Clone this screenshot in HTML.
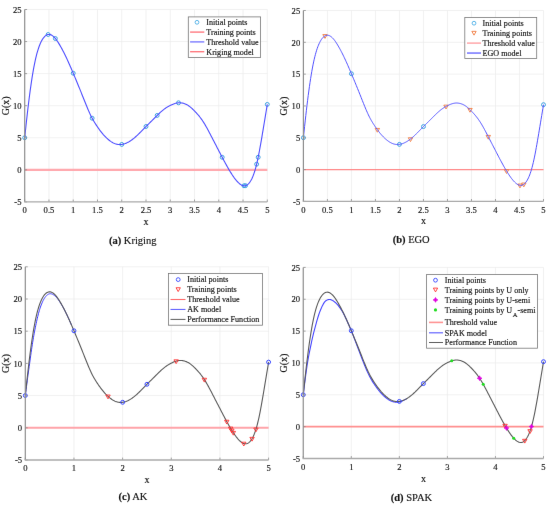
<!DOCTYPE html>
<html><head><meta charset="utf-8"><style>
html,body{margin:0;padding:0;background:#fff;}
svg{display:block;}
text{font-family:"Liberation Serif", "Times New Roman", serif;fill:#141414;stroke:#141414;stroke-width:0.15px;}
.tk{font-size:8.6px;}
.lg{font-size:8.1px;}
.al{font-size:10px;}
.gl{font-size:10px;}
.cp{font-size:10.5px;}
</style></head><body>
<svg width="550" height="506" viewBox="0 0 550 506">
<defs><filter id="bl" x="0" y="0" width="550" height="506" filterUnits="userSpaceOnUse" color-interpolation-filters="sRGB"><feConvolveMatrix order="3" kernelMatrix="0.00163 0.03713 0.00163 0.03713 0.84497 0.03713 0.00163 0.03713 0.00163" divisor="1" edgeMode="duplicate"/></filter></defs><g filter="url(#bl)">
<rect width="550" height="506" fill="#fff"/>
<path d="M48.96,9.50V201.90M73.22,9.50V201.90M97.48,9.50V201.90M121.74,9.50V201.90M146.00,9.50V201.90M170.26,9.50V201.90M194.52,9.50V201.90M218.78,9.50V201.90M243.04,9.50V201.90M267.30,9.50V201.90M24.70,169.83H267.30M24.70,137.77H267.30M24.70,105.70H267.30M24.70,73.63H267.30M24.70,41.57H267.30M24.70,9.50H267.30" stroke="#ebebeb" stroke-width="0.7" fill="none"/>
<path d="M24.70,169.83H267.30" stroke="#ffa8ae" stroke-width="2.1"/>
<circle cx="24.70" cy="137.70" r="1.95" stroke="#3a9fe0" stroke-width="1.0" fill="none"/>
<circle cx="48.14" cy="34.51" r="1.95" stroke="#3a9fe0" stroke-width="1.0" fill="none"/>
<circle cx="55.36" cy="38.52" r="1.95" stroke="#3a9fe0" stroke-width="1.0" fill="none"/>
<circle cx="73.22" cy="73.23" r="1.95" stroke="#3a9fe0" stroke-width="1.0" fill="none"/>
<circle cx="92.14" cy="118.21" r="1.95" stroke="#3a9fe0" stroke-width="1.0" fill="none"/>
<circle cx="121.74" cy="144.43" r="1.95" stroke="#3a9fe0" stroke-width="1.0" fill="none"/>
<circle cx="146.00" cy="126.50" r="1.95" stroke="#3a9fe0" stroke-width="1.0" fill="none"/>
<circle cx="157.16" cy="115.43" r="1.95" stroke="#3a9fe0" stroke-width="1.0" fill="none"/>
<circle cx="178.51" cy="102.79" r="1.95" stroke="#3a9fe0" stroke-width="1.0" fill="none"/>
<circle cx="222.18" cy="157.26" r="1.95" stroke="#3a9fe0" stroke-width="1.0" fill="none"/>
<circle cx="244.01" cy="185.78" r="1.95" stroke="#3a9fe0" stroke-width="1.0" fill="none"/>
<circle cx="245.47" cy="185.65" r="1.95" stroke="#3a9fe0" stroke-width="1.0" fill="none"/>
<circle cx="256.63" cy="164.21" r="1.95" stroke="#3a9fe0" stroke-width="1.0" fill="none"/>
<circle cx="258.18" cy="157.23" r="1.95" stroke="#3a9fe0" stroke-width="1.0" fill="none"/>
<circle cx="267.30" cy="104.42" r="1.95" stroke="#3a9fe0" stroke-width="1.0" fill="none"/>
<path d="M24.70,137.70 L25.31,132.00 L25.92,126.35 L26.52,120.78 L27.13,115.33 L27.74,110.03 L28.35,104.90 L28.96,99.97 L29.56,95.22 L30.17,90.67 L30.78,86.30 L31.39,82.13 L32.00,78.15 L32.60,74.38 L33.21,70.81 L33.82,67.44 L34.43,64.29 L35.04,61.34 L35.64,58.61 L36.25,56.07 L36.86,53.72 L37.47,51.55 L38.08,49.55 L38.68,47.71 L39.29,46.02 L39.90,44.48 L40.51,43.07 L41.12,41.78 L41.72,40.62 L42.33,39.57 L42.94,38.63 L43.55,37.79 L44.16,37.05 L44.76,36.42 L45.37,35.87 L45.98,35.42 L46.59,35.06 L47.20,34.78 L47.80,34.58 L48.41,34.47 L49.02,34.44 L49.63,34.49 L50.24,34.62 L50.84,34.82 L51.45,35.10 L52.06,35.45 L52.67,35.87 L53.28,36.36 L53.88,36.92 L54.49,37.53 L55.10,38.21 L55.71,38.95 L56.32,39.74 L56.93,40.58 L57.53,41.47 L58.14,42.40 L58.75,43.37 L59.36,44.37 L59.97,45.40 L60.57,46.45 L61.18,47.52 L61.79,48.62 L62.40,49.75 L63.01,50.90 L63.61,52.07 L64.22,53.28 L64.83,54.50 L65.44,55.75 L66.05,57.02 L66.65,58.31 L67.26,59.62 L67.87,60.95 L68.48,62.29 L69.09,63.65 L69.69,65.03 L70.30,66.42 L70.91,67.82 L71.52,69.23 L72.13,70.65 L72.73,72.08 L73.34,73.52 L73.95,74.96 L74.56,76.40 L75.17,77.85 L75.77,79.31 L76.38,80.77 L76.99,82.23 L77.60,83.71 L78.21,85.18 L78.81,86.67 L79.42,88.16 L80.03,89.65 L80.64,91.16 L81.25,92.66 L81.85,94.18 L82.46,95.70 L83.07,97.23 L83.68,98.76 L84.29,100.29 L84.89,101.82 L85.50,103.33 L86.11,104.83 L86.72,106.32 L87.33,107.79 L87.93,109.23 L88.54,110.64 L89.15,112.02 L89.76,113.36 L90.37,114.67 L90.97,115.92 L91.58,117.14 L92.19,118.30 L92.80,119.41 L93.41,120.48 L94.01,121.51 L94.62,122.51 L95.23,123.48 L95.84,124.42 L96.45,125.35 L97.05,126.26 L97.66,127.15 L98.27,128.03 L98.88,128.90 L99.49,129.74 L100.09,130.56 L100.70,131.36 L101.31,132.14 L101.92,132.90 L102.53,133.63 L103.13,134.34 L103.74,135.02 L104.35,135.69 L104.96,136.33 L105.57,136.95 L106.17,137.55 L106.78,138.14 L107.39,138.70 L108.00,139.24 L108.61,139.75 L109.21,140.25 L109.82,140.72 L110.43,141.17 L111.04,141.59 L111.65,141.98 L112.25,142.35 L112.86,142.69 L113.47,143.01 L114.08,143.29 L114.69,143.55 L115.29,143.78 L115.90,143.98 L116.51,144.15 L117.12,144.29 L117.73,144.40 L118.34,144.49 L118.94,144.54 L119.55,144.57 L120.16,144.57 L120.77,144.54 L121.38,144.48 L121.98,144.40 L122.59,144.29 L123.20,144.15 L123.81,143.99 L124.42,143.81 L125.02,143.60 L125.63,143.37 L126.24,143.12 L126.85,142.85 L127.46,142.55 L128.06,142.23 L128.67,141.90 L129.28,141.55 L129.89,141.17 L130.50,140.78 L131.10,140.37 L131.71,139.94 L132.32,139.50 L132.93,139.04 L133.54,138.56 L134.14,138.07 L134.75,137.56 L135.36,137.03 L135.97,136.49 L136.58,135.94 L137.18,135.37 L137.79,134.79 L138.40,134.20 L139.01,133.61 L139.62,133.00 L140.22,132.39 L140.83,131.77 L141.44,131.15 L142.05,130.53 L142.66,129.90 L143.26,129.28 L143.87,128.65 L144.48,128.03 L145.09,127.41 L145.70,126.80 L146.30,126.19 L146.91,125.59 L147.52,124.99 L148.13,124.40 L148.74,123.80 L149.34,123.21 L149.95,122.61 L150.56,122.01 L151.17,121.41 L151.78,120.81 L152.38,120.20 L152.99,119.60 L153.60,118.99 L154.21,118.37 L154.82,117.76 L155.42,117.15 L156.03,116.55 L156.64,115.94 L157.25,115.34 L157.86,114.75 L158.46,114.16 L159.07,113.58 L159.68,113.01 L160.29,112.45 L160.90,111.90 L161.50,111.36 L162.11,110.84 L162.72,110.33 L163.33,109.84 L163.94,109.37 L164.54,108.92 L165.15,108.48 L165.76,108.06 L166.37,107.66 L166.98,107.27 L167.58,106.90 L168.19,106.54 L168.80,106.20 L169.41,105.87 L170.02,105.55 L170.62,105.25 L171.23,104.96 L171.84,104.68 L172.45,104.41 L173.06,104.16 L173.66,103.93 L174.27,103.71 L174.88,103.51 L175.49,103.33 L176.10,103.18 L176.71,103.04 L177.31,102.93 L177.92,102.85 L178.53,102.79 L179.14,102.76 L179.75,102.75 L180.35,102.78 L180.96,102.83 L181.57,102.92 L182.18,103.03 L182.79,103.16 L183.39,103.32 L184.00,103.50 L184.61,103.71 L185.22,103.93 L185.83,104.19 L186.43,104.48 L187.04,104.79 L187.65,105.14 L188.26,105.53 L188.87,105.94 L189.47,106.39 L190.08,106.86 L190.69,107.36 L191.30,107.88 L191.91,108.42 L192.51,108.98 L193.12,109.57 L193.73,110.16 L194.34,110.78 L194.95,111.40 L195.55,112.04 L196.16,112.69 L196.77,113.36 L197.38,114.05 L197.99,114.75 L198.59,115.47 L199.20,116.21 L199.81,116.98 L200.42,117.77 L201.03,118.58 L201.63,119.43 L202.24,120.30 L202.85,121.20 L203.46,122.13 L204.07,123.09 L204.67,124.08 L205.28,125.11 L205.89,126.16 L206.50,127.24 L207.11,128.33 L207.71,129.45 L208.32,130.58 L208.93,131.73 L209.54,132.89 L210.15,134.06 L210.75,135.23 L211.36,136.41 L211.97,137.58 L212.58,138.76 L213.19,139.93 L213.79,141.11 L214.40,142.28 L215.01,143.45 L215.62,144.62 L216.23,145.79 L216.83,146.96 L217.44,148.14 L218.05,149.31 L218.66,150.49 L219.27,151.66 L219.87,152.84 L220.48,154.01 L221.09,155.18 L221.70,156.35 L222.31,157.51 L222.91,158.66 L223.52,159.80 L224.13,160.94 L224.74,162.06 L225.35,163.18 L225.95,164.29 L226.56,165.39 L227.17,166.48 L227.78,167.55 L228.39,168.61 L228.99,169.65 L229.60,170.67 L230.21,171.67 L230.82,172.65 L231.43,173.61 L232.03,174.55 L232.64,175.46 L233.25,176.35 L233.86,177.22 L234.47,178.05 L235.07,178.86 L235.68,179.64 L236.29,180.38 L236.90,181.08 L237.51,181.75 L238.12,182.38 L238.72,182.96 L239.33,183.50 L239.94,184.00 L240.55,184.44 L241.16,184.82 L241.76,185.15 L242.37,185.41 L242.98,185.61 L243.59,185.74 L244.20,185.79 L244.80,185.77 L245.41,185.66 L246.02,185.47 L246.63,185.19 L247.24,184.83 L247.84,184.36 L248.45,183.80 L249.06,183.14 L249.67,182.37 L250.28,181.50 L250.88,180.50 L251.49,179.39 L252.10,178.15 L252.71,176.78 L253.32,175.27 L253.92,173.61 L254.53,171.80 L255.14,169.82 L255.75,167.65 L256.36,165.31 L256.96,162.79 L257.57,160.09 L258.18,157.23 L258.79,154.20 L259.40,151.02 L260.00,147.72 L260.61,144.32 L261.22,140.83 L261.83,137.29 L262.44,133.70 L263.04,130.07 L263.65,126.42 L264.26,122.76 L264.87,119.10 L265.48,115.43 L266.08,111.76 L266.69,108.09 L267.30,104.42" stroke="#4d4dff" stroke-width="1.1" fill="none"/>
<path d="M24.70,201.90v-2.4M48.96,201.90v-2.4M73.22,201.90v-2.4M97.48,201.90v-2.4M121.74,201.90v-2.4M146.00,201.90v-2.4M170.26,201.90v-2.4M194.52,201.90v-2.4M218.78,201.90v-2.4M243.04,201.90v-2.4M267.30,201.90v-2.4M24.70,201.90h2.4M24.70,169.83h2.4M24.70,137.77h2.4M24.70,105.70h2.4M24.70,73.63h2.4M24.70,41.57h2.4M24.70,9.50h2.4" stroke="#8a8a8a" stroke-width="0.8" fill="none"/>
<path d="M24.70,9.50V201.90" stroke="#8e8e8e" stroke-width="1.2" fill="none"/>
<path d="M24.10,201.90H267.30" stroke="#aaaaaa" stroke-width="1.3" fill="none"/>
<text x="21.50" y="205.10" text-anchor="end" class="tk">-5</text>
<text x="21.50" y="173.03" text-anchor="end" class="tk">0</text>
<text x="21.50" y="140.97" text-anchor="end" class="tk">5</text>
<text x="21.50" y="108.90" text-anchor="end" class="tk">10</text>
<text x="21.50" y="76.83" text-anchor="end" class="tk">15</text>
<text x="21.50" y="44.77" text-anchor="end" class="tk">20</text>
<text x="21.50" y="12.70" text-anchor="end" class="tk">25</text>
<text x="24.70" y="213.30" text-anchor="middle" class="tk">0</text>
<text x="48.96" y="213.30" text-anchor="middle" class="tk">0.5</text>
<text x="73.22" y="213.30" text-anchor="middle" class="tk">1</text>
<text x="97.48" y="213.30" text-anchor="middle" class="tk">1.5</text>
<text x="121.74" y="213.30" text-anchor="middle" class="tk">2</text>
<text x="146.00" y="213.30" text-anchor="middle" class="tk">2.5</text>
<text x="170.26" y="213.30" text-anchor="middle" class="tk">3</text>
<text x="194.52" y="213.30" text-anchor="middle" class="tk">3.5</text>
<text x="218.78" y="213.30" text-anchor="middle" class="tk">4</text>
<text x="243.04" y="213.30" text-anchor="middle" class="tk">4.5</text>
<text x="267.30" y="213.30" text-anchor="middle" class="tk">5</text>
<rect x="188.3" y="16.9" width="72.3" height="40.6" fill="#fff" stroke="#777" stroke-width="0.8"/>
<circle cx="197" cy="22.30" r="1.9" stroke="#4aaee6" stroke-width="0.9" fill="none"/>
<text x="206.3" y="25.10" class="lg">Initial points</text>
<path d="M190.1,32.10H204.3" stroke="#ff7a80" stroke-width="1.4"/>
<text x="206.3" y="34.90" class="lg">Training points</text>
<path d="M190.1,41.90H204.3" stroke="#7373ff" stroke-width="1.3"/>
<text x="206.3" y="44.70" class="lg">Threshold value</text>
<path d="M190.1,51.70H204.3" stroke="#ff7a80" stroke-width="1.4"/>
<text x="206.3" y="54.50" class="lg">Kriging model</text>
<text x="146.00" y="224.5" text-anchor="middle" class="al">x</text>
<text transform="translate(8.8,105.90) rotate(-90)" text-anchor="middle" class="al gl">G(x)</text>
<text x="132.7" y="243.8" text-anchor="middle" class="cp"><tspan font-weight="bold">(a)</tspan> Kriging</text>
<path d="M327.41,10.50V201.40M351.42,10.50V201.40M375.43,10.50V201.40M399.44,10.50V201.40M423.45,10.50V201.40M447.46,10.50V201.40M471.47,10.50V201.40M495.48,10.50V201.40M519.49,10.50V201.40M543.50,10.50V201.40M303.40,169.58H543.50M303.40,137.77H543.50M303.40,105.95H543.50M303.40,74.13H543.50M303.40,42.32H543.50M303.40,10.50H543.50" stroke="#ebebeb" stroke-width="0.7" fill="none"/>
<path d="M303.40,169.58H543.50" stroke="#ff8a8a" stroke-width="1.1"/>
<circle cx="303.40" cy="137.70" r="1.95" stroke="#3a9fe0" stroke-width="1.0" fill="none"/>
<circle cx="351.42" cy="73.73" r="1.95" stroke="#3a9fe0" stroke-width="1.0" fill="none"/>
<circle cx="399.44" cy="144.38" r="1.95" stroke="#3a9fe0" stroke-width="1.0" fill="none"/>
<circle cx="423.45" cy="126.58" r="1.95" stroke="#3a9fe0" stroke-width="1.0" fill="none"/>
<circle cx="543.50" cy="104.68" r="1.95" stroke="#3a9fe0" stroke-width="1.0" fill="none"/>
<path d="M322.81,34.59H327.21L325.01,38.39Z" stroke="#f07a40" stroke-width="0.9" fill="none" stroke-linejoin="miter"/>
<path d="M375.15,128.41H379.55L377.35,132.21Z" stroke="#f07a40" stroke-width="0.9" fill="none" stroke-linejoin="miter"/>
<path d="M408.28,137.75H412.68L410.48,141.55Z" stroke="#f07a40" stroke-width="0.9" fill="none" stroke-linejoin="miter"/>
<path d="M443.82,105.14H448.22L446.02,108.94Z" stroke="#f07a40" stroke-width="0.9" fill="none" stroke-linejoin="miter"/>
<path d="M467.83,108.43H472.23L470.03,112.23Z" stroke="#f07a40" stroke-width="0.9" fill="none" stroke-linejoin="miter"/>
<path d="M486.08,135.39H490.48L488.28,139.19Z" stroke="#f07a40" stroke-width="0.9" fill="none" stroke-linejoin="miter"/>
<path d="M504.32,169.67H508.72L506.52,173.47Z" stroke="#f07a40" stroke-width="0.9" fill="none" stroke-linejoin="miter"/>
<path d="M517.77,184.05H522.17L519.97,187.85Z" stroke="#f07a40" stroke-width="0.9" fill="none" stroke-linejoin="miter"/>
<path d="M521.61,183.04H526.01L523.81,186.84Z" stroke="#f07a40" stroke-width="0.9" fill="none" stroke-linejoin="miter"/>
<path d="M303.40,137.70 L304.00,132.04 L304.60,126.43 L305.21,120.91 L305.81,115.50 L306.41,110.24 L307.01,105.16 L307.61,100.26 L308.21,95.55 L308.82,91.03 L309.42,86.70 L310.02,82.56 L310.62,78.62 L311.22,74.87 L311.82,71.33 L312.43,67.99 L313.03,64.86 L313.63,61.94 L314.23,59.23 L314.83,56.71 L315.44,54.38 L316.04,52.23 L316.64,50.24 L317.24,48.41 L317.84,46.74 L318.44,45.20 L319.05,43.80 L319.65,42.53 L320.25,41.38 L320.85,40.33 L321.45,39.40 L322.05,38.57 L322.66,37.84 L323.26,37.21 L323.86,36.67 L324.46,36.22 L325.06,35.86 L325.66,35.58 L326.27,35.39 L326.87,35.28 L327.47,35.25 L328.07,35.29 L328.67,35.42 L329.28,35.62 L329.88,35.90 L330.48,36.25 L331.08,36.67 L331.68,37.15 L332.28,37.70 L332.89,38.32 L333.49,38.99 L334.09,39.72 L334.69,40.50 L335.29,41.34 L335.89,42.22 L336.50,43.15 L337.10,44.11 L337.70,45.10 L338.30,46.12 L338.90,47.16 L339.51,48.23 L340.11,49.32 L340.71,50.44 L341.31,51.58 L341.91,52.74 L342.51,53.93 L343.12,55.15 L343.72,56.39 L344.32,57.65 L344.92,58.93 L345.52,60.23 L346.12,61.54 L346.73,62.88 L347.33,64.23 L347.93,65.60 L348.53,66.97 L349.13,68.36 L349.74,69.77 L350.34,71.18 L350.94,72.59 L351.54,74.02 L352.14,75.44 L352.74,76.88 L353.35,78.32 L353.95,79.76 L354.55,81.21 L355.15,82.67 L355.75,84.13 L356.35,85.59 L356.96,87.07 L357.56,88.54 L358.16,90.03 L358.76,91.52 L359.36,93.02 L359.96,94.52 L360.57,96.03 L361.17,97.55 L361.77,99.07 L362.37,100.58 L362.97,102.10 L363.58,103.60 L364.18,105.09 L364.78,106.57 L365.38,108.02 L365.98,109.45 L366.58,110.85 L367.19,112.22 L367.79,113.55 L368.39,114.85 L368.99,116.10 L369.59,117.30 L370.19,118.45 L370.80,119.55 L371.40,120.61 L372.00,121.64 L372.60,122.63 L373.20,123.59 L373.81,124.53 L374.41,125.44 L375.01,126.35 L375.61,127.24 L376.21,128.11 L376.81,128.97 L377.42,129.80 L378.02,130.62 L378.62,131.41 L379.22,132.18 L379.82,132.93 L380.42,133.66 L381.03,134.36 L381.63,135.04 L382.23,135.70 L382.83,136.34 L383.43,136.96 L384.04,137.56 L384.64,138.13 L385.24,138.69 L385.84,139.22 L386.44,139.74 L387.04,140.23 L387.65,140.70 L388.25,141.14 L388.85,141.56 L389.45,141.95 L390.05,142.31 L390.65,142.65 L391.26,142.96 L391.86,143.25 L392.46,143.50 L393.06,143.73 L393.66,143.93 L394.26,144.10 L394.87,144.24 L395.47,144.35 L396.07,144.44 L396.67,144.49 L397.27,144.52 L397.88,144.51 L398.48,144.48 L399.08,144.43 L399.68,144.34 L400.28,144.24 L400.88,144.10 L401.49,143.94 L402.09,143.76 L402.69,143.56 L403.29,143.33 L403.89,143.08 L404.49,142.81 L405.10,142.51 L405.70,142.20 L406.30,141.87 L406.90,141.52 L407.50,141.15 L408.11,140.76 L408.71,140.35 L409.31,139.93 L409.91,139.49 L410.51,139.03 L411.11,138.55 L411.72,138.06 L412.32,137.56 L412.92,137.04 L413.52,136.50 L414.12,135.95 L414.72,135.39 L415.33,134.82 L415.93,134.23 L416.53,133.64 L417.13,133.04 L417.73,132.43 L418.34,131.82 L418.94,131.20 L419.54,130.58 L420.14,129.96 L420.74,129.34 L421.34,128.72 L421.95,128.11 L422.55,127.49 L423.15,126.89 L423.75,126.28 L424.35,125.69 L424.95,125.09 L425.56,124.50 L426.16,123.91 L426.76,123.32 L427.36,122.73 L427.96,122.14 L428.56,121.54 L429.17,120.94 L429.77,120.34 L430.37,119.74 L430.97,119.13 L431.57,118.53 L432.18,117.92 L432.78,117.31 L433.38,116.71 L433.98,116.11 L434.58,115.52 L435.18,114.93 L435.79,114.34 L436.39,113.77 L436.99,113.20 L437.59,112.65 L438.19,112.10 L438.79,111.57 L439.40,111.05 L440.00,110.55 L440.60,110.06 L441.20,109.59 L441.80,109.14 L442.41,108.71 L443.01,108.29 L443.61,107.89 L444.21,107.51 L444.81,107.14 L445.41,106.79 L446.02,106.45 L446.62,106.12 L447.22,105.81 L447.82,105.50 L448.42,105.21 L449.02,104.94 L449.63,104.67 L450.23,104.42 L450.83,104.19 L451.43,103.98 L452.03,103.78 L452.64,103.60 L453.24,103.45 L453.84,103.31 L454.44,103.21 L455.04,103.12 L455.64,103.06 L456.25,103.03 L456.85,103.03 L457.45,103.05 L458.05,103.11 L458.65,103.19 L459.25,103.30 L459.86,103.43 L460.46,103.59 L461.06,103.77 L461.66,103.97 L462.26,104.20 L462.86,104.45 L463.47,104.74 L464.07,105.05 L464.67,105.40 L465.27,105.78 L465.87,106.19 L466.48,106.63 L467.08,107.10 L467.68,107.59 L468.28,108.11 L468.88,108.65 L469.48,109.21 L470.09,109.79 L470.69,110.38 L471.29,110.99 L471.89,111.61 L472.49,112.24 L473.09,112.89 L473.70,113.55 L474.30,114.23 L474.90,114.93 L475.50,115.64 L476.10,116.38 L476.71,117.14 L477.31,117.92 L477.91,118.73 L478.51,119.57 L479.11,120.43 L479.71,121.32 L480.32,122.25 L480.92,123.20 L481.52,124.19 L482.12,125.21 L482.72,126.25 L483.32,127.32 L483.93,128.41 L484.53,129.52 L485.13,130.64 L485.73,131.78 L486.33,132.93 L486.94,134.09 L487.54,135.25 L488.14,136.42 L488.74,137.59 L489.34,138.75 L489.94,139.92 L490.55,141.08 L491.15,142.24 L491.75,143.40 L492.35,144.57 L492.95,145.73 L493.55,146.89 L494.16,148.05 L494.76,149.22 L495.36,150.39 L495.96,151.56 L496.56,152.72 L497.16,153.89 L497.77,155.05 L498.37,156.21 L498.97,157.35 L499.57,158.50 L500.17,159.63 L500.78,160.76 L501.38,161.87 L501.98,162.98 L502.58,164.08 L503.18,165.17 L503.78,166.25 L504.39,167.32 L504.99,168.37 L505.59,169.40 L506.19,170.41 L506.79,171.41 L507.39,172.38 L508.00,173.33 L508.60,174.26 L509.20,175.17 L509.80,176.05 L510.40,176.91 L511.01,177.74 L511.61,178.54 L512.21,179.31 L512.81,180.05 L513.41,180.75 L514.01,181.41 L514.62,182.03 L515.22,182.61 L515.82,183.15 L516.42,183.64 L517.02,184.07 L517.62,184.46 L518.23,184.78 L518.83,185.04 L519.43,185.24 L520.03,185.36 L520.63,185.42 L521.24,185.39 L521.84,185.29 L522.44,185.10 L523.04,184.83 L523.64,184.46 L524.24,184.00 L524.85,183.44 L525.45,182.79 L526.05,182.03 L526.65,181.15 L527.25,180.17 L527.85,179.06 L528.46,177.83 L529.06,176.47 L529.66,174.98 L530.26,173.33 L530.86,171.53 L531.46,169.57 L532.07,167.42 L532.67,165.09 L533.27,162.59 L533.87,159.92 L534.47,157.08 L535.08,154.07 L535.68,150.92 L536.28,147.64 L536.88,144.27 L537.48,140.81 L538.08,137.29 L538.69,133.73 L539.29,130.13 L539.89,126.51 L540.49,122.88 L541.09,119.24 L541.69,115.60 L542.30,111.96 L542.90,108.32 L543.50,104.68" stroke="#5050ff" stroke-width="1.0" fill="none"/>
<path d="M303.40,201.40v-2.4M327.41,201.40v-2.4M351.42,201.40v-2.4M375.43,201.40v-2.4M399.44,201.40v-2.4M423.45,201.40v-2.4M447.46,201.40v-2.4M471.47,201.40v-2.4M495.48,201.40v-2.4M519.49,201.40v-2.4M543.50,201.40v-2.4M303.40,201.40h2.4M303.40,169.58h2.4M303.40,137.77h2.4M303.40,105.95h2.4M303.40,74.13h2.4M303.40,42.32h2.4M303.40,10.50h2.4" stroke="#8a8a8a" stroke-width="0.8" fill="none"/>
<path d="M303.40,10.50V201.40" stroke="#8e8e8e" stroke-width="1.2" fill="none"/>
<path d="M302.80,201.40H543.50" stroke="#aaaaaa" stroke-width="1.3" fill="none"/>
<text x="300.20" y="204.60" text-anchor="end" class="tk">-5</text>
<text x="300.20" y="172.78" text-anchor="end" class="tk">0</text>
<text x="300.20" y="140.97" text-anchor="end" class="tk">5</text>
<text x="300.20" y="109.15" text-anchor="end" class="tk">10</text>
<text x="300.20" y="77.33" text-anchor="end" class="tk">15</text>
<text x="300.20" y="45.52" text-anchor="end" class="tk">20</text>
<text x="300.20" y="13.70" text-anchor="end" class="tk">25</text>
<text x="303.40" y="212.80" text-anchor="middle" class="tk">0</text>
<text x="327.41" y="212.80" text-anchor="middle" class="tk">0.5</text>
<text x="351.42" y="212.80" text-anchor="middle" class="tk">1</text>
<text x="375.43" y="212.80" text-anchor="middle" class="tk">1.5</text>
<text x="399.44" y="212.80" text-anchor="middle" class="tk">2</text>
<text x="423.45" y="212.80" text-anchor="middle" class="tk">2.5</text>
<text x="447.46" y="212.80" text-anchor="middle" class="tk">3</text>
<text x="471.47" y="212.80" text-anchor="middle" class="tk">3.5</text>
<text x="495.48" y="212.80" text-anchor="middle" class="tk">4</text>
<text x="519.49" y="212.80" text-anchor="middle" class="tk">4.5</text>
<text x="543.50" y="212.80" text-anchor="middle" class="tk">5</text>
<rect x="464.8" y="17.5" width="71.9" height="40.9" fill="#fff" stroke="#777" stroke-width="0.8"/>
<circle cx="474.0" cy="23.20" r="1.9" stroke="#4aaee6" stroke-width="0.9" fill="none"/>
<text x="482.5" y="26.00" class="lg">Initial points</text>
<path d="M471.85,31.35H476.15L474.00,35.15Z" stroke="#f07a40" stroke-width="0.9" fill="none"/>
<text x="482.5" y="35.95" class="lg">Training points</text>
<path d="M467.0,43.10H481.0" stroke="#ffa0a4" stroke-width="1.4"/>
<text x="482.5" y="45.90" class="lg">Threshold value</text>
<path d="M467.0,53.05H481.0" stroke="#6a6aff" stroke-width="1.4"/>
<text x="482.5" y="55.85" class="lg">EGO model</text>
<text x="423.45" y="223.5" text-anchor="middle" class="al">x</text>
<text transform="translate(287.1,106.15) rotate(-90)" text-anchor="middle" class="al gl">G(x)</text>
<text x="411.2" y="243.2" text-anchor="middle" class="cp"><tspan font-weight="bold">(b)</tspan> EGO</text>
<path d="M73.96,266.80V460.00M122.62,266.80V460.00M171.28,266.80V460.00M219.94,266.80V460.00M268.60,266.80V460.00M25.30,427.80H268.60M25.30,395.60H268.60M25.30,363.40H268.60M25.30,331.20H268.60M25.30,299.00H268.60M25.30,266.80H268.60" stroke="#ebebeb" stroke-width="0.7" fill="none"/>
<path d="M25.30,427.80H268.60" stroke="#ffa4aa" stroke-width="2.0"/>
<path d="M25.30,395.53 L25.69,392.59 L26.08,389.63 L26.47,386.66 L26.85,383.69 L27.24,380.72 L27.63,377.76 L28.02,374.84 L28.41,372.00 L28.80,369.22 L29.18,366.47 L29.57,363.71 L29.96,360.91 L30.35,358.06 L30.74,355.25 L31.13,352.51 L31.52,349.84 L31.90,347.24 L32.29,344.71 L32.68,342.26 L33.07,339.88 L33.46,337.58 L33.85,335.35 L34.23,333.20 L34.62,331.12 L35.01,329.13 L35.40,327.19 L35.79,325.29 L36.18,323.44 L36.57,321.64 L36.95,319.89 L37.34,318.20 L37.73,316.57 L38.12,315.00 L38.51,313.50 L38.90,312.07 L39.28,310.71 L39.67,309.43 L40.06,308.23 L40.45,307.08 L40.84,305.99 L41.23,304.95 L41.62,303.96 L42.00,303.02 L42.39,302.13 L42.78,301.28 L43.17,300.49 L43.56,299.74 L43.95,299.05 L44.33,298.40 L44.72,297.80 L45.11,297.25 L45.50,296.74 L45.89,296.27 L46.28,295.84 L46.67,295.45 L47.05,295.10 L47.44,294.79 L47.83,294.52 L48.22,294.29 L48.61,294.09 L49.00,293.94 L49.38,293.83 L49.77,293.75 L50.16,293.72 L50.55,293.72 L50.94,293.76 L51.33,293.83 L51.72,293.94 L52.10,294.08 L52.49,294.25 L52.88,294.45 L53.27,294.67 L53.66,294.93 L54.05,295.20 L54.43,295.50 L54.82,295.82 L55.21,296.16 L55.60,296.52 L55.99,296.91 L56.38,297.32 L56.77,297.75 L57.15,298.20 L57.54,298.67 L57.93,299.17 L58.32,299.69 L58.71,300.23 L59.10,300.79 L59.48,301.38 L59.87,301.97 L60.26,302.58 L60.65,303.20 L61.04,303.83 L61.43,304.47 L61.82,305.13 L62.20,305.79 L62.59,306.46 L62.98,307.15 L63.37,307.85 L63.76,308.56 L64.15,309.29 L64.53,310.02 L64.92,310.77 L65.31,311.54 L65.70,312.32 L66.09,313.11 L66.48,313.91 L66.87,314.73 L67.25,315.55 L67.64,316.38 L68.03,317.23 L68.42,318.07 L68.81,318.93 L69.20,319.79 L69.58,320.66 L69.97,321.54 L70.36,322.42 L70.75,323.31 L71.14,324.20 L71.53,325.09" stroke="#3a3aff" stroke-width="1.0" fill="none"/>
<path d="M25.30,395.53 L25.91,389.81 L26.52,384.13 L27.13,378.54 L27.74,373.07 L28.35,367.75 L28.96,362.60 L29.57,357.64 L30.18,352.88 L30.79,348.30 L31.40,343.92 L32.01,339.73 L32.62,335.74 L33.23,331.95 L33.84,328.36 L34.45,324.98 L35.06,321.82 L35.67,318.86 L36.28,316.11 L36.89,313.56 L37.50,311.21 L38.11,309.03 L38.72,307.02 L39.32,305.17 L39.93,303.47 L40.54,301.92 L41.15,300.50 L41.76,299.22 L42.37,298.05 L42.98,296.99 L43.59,296.05 L44.20,295.21 L44.81,294.47 L45.42,293.83 L46.03,293.28 L46.64,292.83 L47.25,292.46 L47.86,292.18 L48.47,291.99 L49.08,291.88 L49.69,291.84 L50.30,291.89 L50.91,292.02 L51.52,292.23 L52.13,292.51 L52.74,292.86 L53.35,293.28 L53.96,293.78 L54.57,294.33 L55.18,294.95 L55.79,295.63 L56.40,296.37 L57.01,297.16 L57.62,298.01 L58.23,298.91 L58.84,299.84 L59.45,300.81 L60.06,301.82 L60.67,302.85 L61.28,303.90 L61.89,304.98 L62.50,306.09 L63.11,307.22 L63.72,308.37 L64.33,309.55 L64.94,310.76 L65.55,311.99 L66.15,313.24 L66.76,314.51 L67.37,315.81 L67.98,317.12 L68.59,318.46 L69.20,319.81 L69.81,321.18 L70.42,322.56 L71.03,323.96 L71.64,325.36 L72.25,326.78 L72.86,328.21 L73.47,329.64 L74.08,331.08 L74.69,332.53 L75.30,333.98 L75.91,335.43 L76.52,336.90 L77.13,338.36 L77.74,339.84 L78.35,341.31 L78.96,342.80 L79.57,344.29 L80.18,345.78 L80.79,347.29 L81.40,348.80 L82.01,350.31 L82.62,351.83 L83.23,353.36 L83.84,354.90 L84.45,356.43 L85.06,357.97 L85.67,359.50 L86.28,361.02 L86.89,362.53 L87.50,364.02 L88.11,365.50 L88.72,366.94 L89.33,368.36 L89.94,369.75 L90.55,371.09 L91.16,372.40 L91.77,373.67 L92.38,374.88 L92.98,376.05 L93.59,377.16 L94.20,378.24 L94.81,379.27 L95.42,380.28 L96.03,381.25 L96.64,382.20 L97.25,383.13 L97.86,384.04 L98.47,384.94 L99.08,385.83 L99.69,386.69 L100.30,387.54 L100.91,388.37 L101.52,389.17 L102.13,389.95 L102.74,390.71 L103.35,391.44 L103.96,392.15 L104.57,392.84 L105.18,393.51 L105.79,394.16 L106.40,394.78 L107.01,395.39 L107.62,395.97 L108.23,396.53 L108.84,397.08 L109.45,397.60 L110.06,398.09 L110.67,398.56 L111.28,399.01 L111.89,399.44 L112.50,399.83 L113.11,400.20 L113.72,400.55 L114.33,400.86 L114.94,401.15 L115.55,401.41 L116.16,401.64 L116.77,401.84 L117.38,402.01 L117.99,402.15 L118.60,402.27 L119.21,402.35 L119.82,402.40 L120.42,402.43 L121.03,402.43 L121.64,402.40 L122.25,402.34 L122.86,402.26 L123.47,402.15 L124.08,402.01 L124.69,401.85 L125.30,401.67 L125.91,401.46 L126.52,401.23 L127.13,400.97 L127.74,400.70 L128.35,400.40 L128.96,400.09 L129.57,399.75 L130.18,399.39 L130.79,399.02 L131.40,398.63 L132.01,398.22 L132.62,397.79 L133.23,397.34 L133.84,396.88 L134.45,396.40 L135.06,395.90 L135.67,395.39 L136.28,394.86 L136.89,394.32 L137.50,393.76 L138.11,393.19 L138.72,392.61 L139.33,392.02 L139.94,391.42 L140.55,390.81 L141.16,390.20 L141.77,389.58 L142.38,388.96 L142.99,388.33 L143.60,387.70 L144.21,387.07 L144.82,386.45 L145.43,385.82 L146.04,385.20 L146.65,384.59 L147.25,383.98 L147.86,383.37 L148.47,382.77 L149.08,382.17 L149.69,381.58 L150.30,380.98 L150.91,380.38 L151.52,379.78 L152.13,379.18 L152.74,378.57 L153.35,377.97 L153.96,377.35 L154.57,376.74 L155.18,376.13 L155.79,375.51 L156.40,374.90 L157.01,374.29 L157.62,373.69 L158.23,373.08 L158.84,372.49 L159.45,371.90 L160.06,371.31 L160.67,370.74 L161.28,370.18 L161.89,369.62 L162.50,369.09 L163.11,368.56 L163.72,368.05 L164.33,367.56 L164.94,367.09 L165.55,366.63 L166.16,366.19 L166.77,365.77 L167.38,365.37 L167.99,364.98 L168.60,364.61 L169.21,364.25 L169.82,363.90 L170.43,363.57 L171.04,363.25 L171.65,362.95 L172.26,362.65 L172.87,362.37 L173.48,362.11 L174.08,361.85 L174.69,361.62 L175.30,361.40 L175.91,361.20 L176.52,361.02 L177.13,360.87 L177.74,360.73 L178.35,360.62 L178.96,360.54 L179.57,360.48 L180.18,360.44 L180.79,360.44 L181.40,360.47 L182.01,360.52 L182.62,360.60 L183.23,360.72 L183.84,360.85 L184.45,361.01 L185.06,361.19 L185.67,361.40 L186.28,361.63 L186.89,361.88 L187.50,362.17 L188.11,362.49 L188.72,362.84 L189.33,363.23 L189.94,363.64 L190.55,364.09 L191.16,364.56 L191.77,365.06 L192.38,365.59 L192.99,366.13 L193.60,366.70 L194.21,367.28 L194.82,367.88 L195.43,368.50 L196.04,369.13 L196.65,369.77 L197.26,370.42 L197.87,371.09 L198.48,371.78 L199.09,372.49 L199.70,373.21 L200.31,373.96 L200.92,374.73 L201.52,375.52 L202.13,376.34 L202.74,377.18 L203.35,378.06 L203.96,378.96 L204.57,379.89 L205.18,380.86 L205.79,381.86 L206.40,382.89 L207.01,383.95 L207.62,385.03 L208.23,386.13 L208.84,387.25 L209.45,388.39 L210.06,389.54 L210.67,390.70 L211.28,391.87 L211.89,393.05 L212.50,394.23 L213.11,395.42 L213.72,396.60 L214.33,397.78 L214.94,398.95 L215.55,400.13 L216.16,401.31 L216.77,402.48 L217.38,403.66 L217.99,404.83 L218.60,406.01 L219.21,407.19 L219.82,408.37 L220.43,409.55 L221.04,410.74 L221.65,411.92 L222.26,413.09 L222.87,414.26 L223.48,415.42 L224.09,416.58 L224.70,417.73 L225.31,418.87 L225.92,420.00 L226.53,421.12 L227.14,422.23 L227.75,423.34 L228.35,424.43 L228.96,425.51 L229.57,426.57 L230.18,427.61 L230.79,428.64 L231.40,429.65 L232.01,430.63 L232.62,431.60 L233.23,432.54 L233.84,433.45 L234.45,434.35 L235.06,435.21 L235.67,436.05 L236.28,436.87 L236.89,437.64 L237.50,438.39 L238.11,439.10 L238.72,439.77 L239.33,440.40 L239.94,440.99 L240.55,441.53 L241.16,442.02 L241.77,442.46 L242.38,442.85 L242.99,443.18 L243.60,443.44 L244.21,443.64 L244.82,443.77 L245.43,443.82 L246.04,443.80 L246.65,443.69 L247.26,443.50 L247.87,443.23 L248.48,442.86 L249.09,442.39 L249.70,441.83 L250.31,441.16 L250.92,440.39 L251.53,439.51 L252.14,438.51 L252.75,437.40 L253.36,436.15 L253.97,434.77 L254.58,433.26 L255.18,431.60 L255.79,429.77 L256.40,427.78 L257.01,425.61 L257.62,423.26 L258.23,420.72 L258.84,418.02 L259.45,415.14 L260.06,412.10 L260.67,408.91 L261.28,405.60 L261.89,402.18 L262.50,398.68 L263.11,395.12 L263.72,391.51 L264.33,387.87 L264.94,384.21 L265.55,380.53 L266.16,376.85 L266.77,373.17 L267.38,369.49 L267.99,365.80 L268.60,362.12" stroke="#5a5a5a" stroke-width="1.1" fill="none"/>
<circle cx="25.30" cy="395.53" r="1.95" stroke="#3344ff" stroke-width="1.0" fill="none"/>
<circle cx="73.96" cy="330.79" r="1.95" stroke="#3344ff" stroke-width="1.0" fill="none"/>
<circle cx="122.62" cy="402.29" r="1.95" stroke="#3344ff" stroke-width="1.0" fill="none"/>
<circle cx="146.95" cy="384.28" r="1.95" stroke="#3344ff" stroke-width="1.0" fill="none"/>
<circle cx="268.60" cy="362.12" r="1.95" stroke="#3344ff" stroke-width="1.0" fill="none"/>
<path d="M105.82,395.04H110.22L108.02,398.84Z" stroke="#ff3030" stroke-width="0.9" fill="none" stroke-linejoin="miter"/>
<path d="M173.95,359.83H178.35L176.15,363.63Z" stroke="#ff3030" stroke-width="0.9" fill="none" stroke-linejoin="miter"/>
<path d="M202.17,378.28H206.57L204.37,382.08Z" stroke="#ff3030" stroke-width="0.9" fill="none" stroke-linejoin="miter"/>
<path d="M224.55,420.24H228.95L226.75,424.04Z" stroke="#ff3030" stroke-width="0.9" fill="none" stroke-linejoin="miter"/>
<path d="M228.45,427.09H232.85L230.65,430.89Z" stroke="#ff3030" stroke-width="0.9" fill="none" stroke-linejoin="miter"/>
<path d="M229.66,429.09H234.06L231.86,432.89Z" stroke="#ff3030" stroke-width="0.9" fill="none" stroke-linejoin="miter"/>
<path d="M231.12,431.37H235.52L233.32,435.17Z" stroke="#ff3030" stroke-width="0.9" fill="none" stroke-linejoin="miter"/>
<path d="M241.58,442.21H245.98L243.78,446.01Z" stroke="#ff3030" stroke-width="0.9" fill="none" stroke-linejoin="miter"/>
<path d="M249.86,437.35H254.26L252.06,441.15Z" stroke="#ff3030" stroke-width="0.9" fill="none" stroke-linejoin="miter"/>
<path d="M253.75,427.99H258.15L255.95,431.79Z" stroke="#ff3030" stroke-width="0.9" fill="none" stroke-linejoin="miter"/>
<path d="M25.30,460.00v-2.4M73.96,460.00v-2.4M122.62,460.00v-2.4M171.28,460.00v-2.4M219.94,460.00v-2.4M268.60,460.00v-2.4M25.30,460.00h2.4M25.30,427.80h2.4M25.30,395.60h2.4M25.30,363.40h2.4M25.30,331.20h2.4M25.30,299.00h2.4M25.30,266.80h2.4" stroke="#8a8a8a" stroke-width="0.8" fill="none"/>
<path d="M25.30,266.80V460.00" stroke="#8e8e8e" stroke-width="1.2" fill="none"/>
<path d="M24.70,460.00H268.60" stroke="#aaaaaa" stroke-width="1.3" fill="none"/>
<text x="22.10" y="463.20" text-anchor="end" class="tk">-5</text>
<text x="22.10" y="431.00" text-anchor="end" class="tk">0</text>
<text x="22.10" y="398.80" text-anchor="end" class="tk">5</text>
<text x="22.10" y="366.60" text-anchor="end" class="tk">10</text>
<text x="22.10" y="334.40" text-anchor="end" class="tk">15</text>
<text x="22.10" y="302.20" text-anchor="end" class="tk">20</text>
<text x="22.10" y="270.00" text-anchor="end" class="tk">25</text>
<text x="25.30" y="471.40" text-anchor="middle" class="tk">0</text>
<text x="73.96" y="471.40" text-anchor="middle" class="tk">1</text>
<text x="122.62" y="471.40" text-anchor="middle" class="tk">2</text>
<text x="171.28" y="471.40" text-anchor="middle" class="tk">3</text>
<text x="219.94" y="471.40" text-anchor="middle" class="tk">4</text>
<text x="268.60" y="471.40" text-anchor="middle" class="tk">5</text>
<rect x="168.4" y="273.4" width="94" height="51.8" fill="#fff" stroke="#777" stroke-width="0.8"/>
<circle cx="178.2" cy="279.60" r="1.9" stroke="#3344ff" stroke-width="0.9" fill="none"/>
<text x="187.2" y="282.40" class="lg">Initial points</text>
<path d="M176.05,287.75H180.35L178.20,291.55Z" stroke="#ff3030" stroke-width="0.9" fill="none"/>
<text x="187.2" y="292.35" class="lg">Training points</text>
<path d="M170.5,299.50H185.5" stroke="#ff6868" stroke-width="1.1"/>
<text x="187.2" y="302.30" class="lg">Threshold value</text>
<path d="M170.5,309.45H185.5" stroke="#6464ff" stroke-width="1.1"/>
<text x="187.2" y="312.25" class="lg">AK model</text>
<path d="M170.5,319.40H185.5" stroke="#5c5c5c" stroke-width="1.0"/>
<text x="187.2" y="322.20" class="lg">Performance Function</text>
<text x="146.95" y="482.8" text-anchor="middle" class="al">x</text>
<text transform="translate(8.8,363.60) rotate(-90)" text-anchor="middle" class="al gl">G(x)</text>
<text x="133.0" y="500.2" text-anchor="middle" class="cp"><tspan font-weight="bold">(c)</tspan> AK</text>
<path d="M351.30,267.40V458.50M399.35,267.40V458.50M447.40,267.40V458.50M495.45,267.40V458.50M543.50,267.40V458.50M303.25,426.65H543.50M303.25,394.80H543.50M303.25,362.95H543.50M303.25,331.10H543.50M303.25,299.25H543.50M303.25,267.40H543.50" stroke="#ebebeb" stroke-width="0.7" fill="none"/>
<path d="M303.25,426.65H543.50" stroke="#ff9090" stroke-width="1.6"/>
<path d="M303.25,394.73 L303.72,390.84 L304.19,386.99 L304.67,383.20 L305.14,379.51 L305.61,375.91 L306.08,372.42 L306.55,369.05 L307.02,365.82 L307.50,362.76 L307.97,359.92 L308.44,357.27 L308.91,354.76 L309.38,352.38 L309.85,350.07 L310.33,347.80 L310.80,345.55 L311.27,343.27 L311.74,340.99 L312.21,338.82 L312.68,336.76 L313.16,334.80 L313.63,332.92 L314.10,331.09 L314.57,329.31 L315.04,327.54 L315.51,325.78 L315.99,324.05 L316.46,322.34 L316.93,320.67 L317.40,319.05 L317.87,317.48 L318.35,315.98 L318.82,314.54 L319.29,313.18 L319.76,311.91 L320.23,310.72 L320.70,309.57 L321.18,308.46 L321.65,307.38 L322.12,306.35 L322.59,305.38 L323.06,304.47 L323.53,303.63 L324.01,302.88 L324.48,302.21 L324.95,301.65 L325.42,301.16 L325.89,300.75 L326.36,300.40 L326.84,300.12 L327.31,299.89 L327.78,299.71 L328.25,299.59 L328.72,299.51 L329.19,299.48 L329.67,299.48 L330.14,299.53 L330.61,299.61 L331.08,299.74 L331.55,299.92 L332.03,300.13 L332.50,300.38 L332.97,300.66 L333.44,300.98 L333.91,301.33 L334.38,301.71 L334.86,302.11 L335.33,302.53 L335.80,302.96 L336.27,303.41 L336.74,303.89 L337.21,304.39 L337.69,304.91 L338.16,305.46 L338.63,306.05 L339.10,306.66 L339.57,307.31 L340.04,307.97 L340.52,308.65 L340.99,309.34 L341.46,310.06 L341.93,310.80 L342.40,311.58 L342.87,312.39 L343.35,313.25 L343.82,314.15 L344.29,315.10 L344.76,316.07 L345.23,317.05 L345.71,318.04 L346.18,319.05 L346.65,320.07 L347.12,321.11 L347.59,322.15 L348.06,323.21 L348.54,324.27 L349.01,325.35 L349.48,326.43 L349.95,327.53 L350.42,328.63 L350.89,329.74 L351.37,330.85 L351.84,332.00 L352.31,333.18 L352.78,334.39 L353.25,335.63 L353.72,336.88 L354.20,338.15 L354.67,339.41 L355.14,340.67 L355.61,341.92 L356.08,343.15 L356.55,344.37 L357.03,345.59 L357.50,346.82 L357.97,348.05 L358.44,349.28 L358.91,350.52 L359.39,351.75 L359.86,353.00 L360.33,354.24 L360.80,355.48 L361.27,356.73 L361.74,357.97 L362.22,359.20 L362.69,360.43 L363.16,361.65 L363.63,362.86 L364.10,364.05 L364.57,365.23 L365.05,366.39 L365.52,367.53 L365.99,368.64 L366.46,369.74 L366.93,370.81 L367.40,371.86 L367.88,372.89 L368.35,373.89 L368.82,374.87 L369.29,375.81 L369.76,376.72 L370.23,377.60 L370.71,378.46 L371.18,379.28 L371.65,380.08 L372.12,380.86 L372.59,381.62 L373.07,382.36 L373.54,383.09 L374.01,383.80 L374.48,384.50 L374.95,385.20 L375.42,385.88 L375.90,386.55 L376.37,387.22 L376.84,387.87 L377.31,388.51 L377.78,389.13 L378.25,389.75 L378.73,390.35 L379.20,390.93 L379.67,391.51 L380.14,392.06 L380.61,392.61 L381.08,393.13 L381.56,393.65 L382.03,394.15 L382.50,394.63 L382.97,395.10 L383.44,395.56 L383.91,396.00 L384.39,396.43 L384.86,396.85 L385.33,397.26 L385.80,397.65 L386.27,398.02 L386.75,398.38 L387.22,398.73 L387.69,399.06 L388.16,399.38 L388.63,399.68 L389.10,399.97 L389.58,400.23 L390.05,400.49 L390.52,400.72 L390.99,400.94 L391.46,401.14 L391.93,401.33 L392.41,401.50 L392.88,401.65 L393.35,401.78 L393.82,401.89 L394.29,401.99 L394.76,402.06 L395.24,402.12 L395.71,402.16 L396.18,402.18 L396.65,402.18 L397.12,402.17 L397.59,402.14 L398.07,402.09 L398.54,402.03 L399.01,401.95 L399.48,401.86 L399.95,401.75 L400.43,401.62 L400.90,401.48 L401.37,401.33 L401.84,401.17 L402.31,400.98 L402.78,400.79 L403.26,400.58 L403.73,400.36 L404.20,400.12 L404.67,399.87 L405.14,399.61 L405.61,399.34 L406.09,399.05 L406.56,398.76" stroke="#4444ff" stroke-width="1.1" fill="none"/>
<path d="M303.25,394.73 L303.85,389.07 L304.45,383.46 L305.06,377.92 L305.66,372.51 L306.26,367.25 L306.86,362.16 L307.46,357.26 L308.07,352.54 L308.67,348.02 L309.27,343.68 L309.87,339.54 L310.48,335.59 L311.08,331.84 L311.68,328.29 L312.28,324.95 L312.88,321.82 L313.49,318.89 L314.09,316.18 L314.69,313.66 L315.29,311.32 L315.89,309.17 L316.50,307.18 L317.10,305.35 L317.70,303.67 L318.30,302.14 L318.91,300.74 L319.51,299.46 L320.11,298.31 L320.71,297.27 L321.31,296.33 L321.92,295.50 L322.52,294.77 L323.12,294.13 L323.72,293.60 L324.32,293.15 L324.93,292.78 L325.53,292.51 L326.13,292.31 L326.73,292.20 L327.34,292.17 L327.94,292.22 L328.54,292.35 L329.14,292.55 L329.74,292.83 L330.35,293.18 L330.95,293.60 L331.55,294.08 L332.15,294.63 L332.75,295.24 L333.36,295.92 L333.96,296.65 L334.56,297.43 L335.16,298.27 L335.77,299.16 L336.37,300.08 L336.97,301.04 L337.57,302.04 L338.17,303.06 L338.78,304.10 L339.38,305.17 L339.98,306.26 L340.58,307.38 L341.18,308.52 L341.79,309.69 L342.39,310.88 L342.99,312.10 L343.59,313.33 L344.19,314.59 L344.80,315.88 L345.40,317.18 L346.00,318.50 L346.60,319.83 L347.21,321.19 L347.81,322.55 L348.41,323.93 L349.01,325.33 L349.61,326.73 L350.22,328.14 L350.82,329.56 L351.42,330.98 L352.02,332.41 L352.62,333.85 L353.23,335.29 L353.83,336.73 L354.43,338.19 L355.03,339.64 L355.64,341.10 L356.24,342.57 L356.84,344.05 L357.44,345.53 L358.04,347.01 L358.65,348.50 L359.25,350.00 L359.85,351.51 L360.45,353.02 L361.05,354.54 L361.66,356.06 L362.26,357.58 L362.86,359.09 L363.46,360.60 L364.07,362.09 L364.67,363.57 L365.27,365.02 L365.87,366.45 L366.47,367.86 L367.08,369.23 L367.68,370.56 L368.28,371.86 L368.88,373.11 L369.48,374.31 L370.09,375.46 L370.69,376.57 L371.29,377.63 L371.89,378.65 L372.49,379.64 L373.10,380.61 L373.70,381.54 L374.30,382.46 L374.90,383.37 L375.51,384.26 L376.11,385.13 L376.71,385.99 L377.31,386.83 L377.91,387.64 L378.52,388.44 L379.12,389.21 L379.72,389.96 L380.32,390.69 L380.92,391.39 L381.53,392.07 L382.13,392.73 L382.73,393.37 L383.33,393.99 L383.94,394.59 L384.54,395.17 L385.14,395.72 L385.74,396.26 L386.34,396.77 L386.95,397.26 L387.55,397.73 L388.15,398.18 L388.75,398.59 L389.35,398.99 L389.96,399.35 L390.56,399.69 L391.16,400.00 L391.76,400.29 L392.37,400.54 L392.97,400.77 L393.57,400.97 L394.17,401.14 L394.77,401.28 L395.38,401.39 L395.98,401.48 L396.58,401.53 L397.18,401.56 L397.78,401.55 L398.39,401.52 L398.99,401.47 L399.59,401.38 L400.19,401.28 L400.80,401.14 L401.40,400.98 L402.00,400.80 L402.60,400.60 L403.20,400.37 L403.81,400.12 L404.41,399.84 L405.01,399.55 L405.61,399.24 L406.21,398.91 L406.82,398.55 L407.42,398.18 L408.02,397.79 L408.62,397.39 L409.22,396.96 L409.83,396.52 L410.43,396.06 L411.03,395.59 L411.63,395.10 L412.24,394.59 L412.84,394.07 L413.44,393.53 L414.04,392.98 L414.64,392.42 L415.25,391.85 L415.85,391.26 L416.45,390.67 L417.05,390.07 L417.65,389.46 L418.26,388.85 L418.86,388.23 L419.46,387.61 L420.06,386.99 L420.67,386.37 L421.27,385.75 L421.87,385.13 L422.47,384.52 L423.07,383.91 L423.68,383.30 L424.28,382.71 L424.88,382.11 L425.48,381.52 L426.08,380.93 L426.69,380.34 L427.29,379.75 L427.89,379.15 L428.49,378.56 L429.10,377.96 L429.70,377.36 L430.30,376.75 L430.90,376.15 L431.50,375.54 L432.11,374.93 L432.71,374.33 L433.31,373.72 L433.91,373.12 L434.51,372.53 L435.12,371.94 L435.72,371.35 L436.32,370.78 L436.92,370.21 L437.53,369.65 L438.13,369.11 L438.73,368.57 L439.33,368.05 L439.93,367.55 L440.54,367.06 L441.14,366.60 L441.74,366.14 L442.34,365.71 L442.94,365.29 L443.55,364.90 L444.15,364.51 L444.75,364.14 L445.35,363.79 L445.95,363.45 L446.56,363.12 L447.16,362.81 L447.76,362.50 L448.36,362.21 L448.97,361.93 L449.57,361.67 L450.17,361.42 L450.77,361.19 L451.37,360.97 L451.98,360.78 L452.58,360.60 L453.18,360.45 L453.78,360.31 L454.38,360.20 L454.99,360.12 L455.59,360.06 L456.19,360.03 L456.79,360.02 L457.40,360.05 L458.00,360.10 L458.60,360.19 L459.20,360.29 L459.80,360.43 L460.41,360.59 L461.01,360.77 L461.61,360.97 L462.21,361.20 L462.81,361.45 L463.42,361.73 L464.02,362.05 L464.62,362.40 L465.22,362.78 L465.83,363.19 L466.43,363.63 L467.03,364.10 L467.63,364.59 L468.23,365.11 L468.84,365.65 L469.44,366.21 L470.04,366.79 L470.64,367.38 L471.24,367.99 L471.85,368.61 L472.45,369.25 L473.05,369.90 L473.65,370.56 L474.26,371.24 L474.86,371.94 L475.46,372.65 L476.06,373.39 L476.66,374.15 L477.27,374.94 L477.87,375.75 L478.47,376.58 L479.07,377.45 L479.67,378.34 L480.28,379.27 L480.88,380.22 L481.48,381.21 L482.08,382.23 L482.68,383.27 L483.29,384.34 L483.89,385.43 L484.49,386.54 L485.09,387.67 L485.70,388.81 L486.30,389.96 L486.90,391.12 L487.50,392.28 L488.10,393.45 L488.71,394.62 L489.31,395.79 L489.91,396.95 L490.51,398.12 L491.11,399.28 L491.72,400.44 L492.32,401.61 L492.92,402.77 L493.52,403.93 L494.13,405.10 L494.73,406.27 L495.33,407.43 L495.93,408.60 L496.53,409.77 L497.14,410.94 L497.74,412.10 L498.34,413.26 L498.94,414.41 L499.54,415.55 L500.15,416.69 L500.75,417.81 L501.35,418.93 L501.95,420.04 L502.56,421.15 L503.16,422.24 L503.76,423.32 L504.36,424.38 L504.96,425.43 L505.57,426.47 L506.17,427.48 L506.77,428.48 L507.37,429.45 L507.97,430.40 L508.58,431.34 L509.18,432.24 L509.78,433.13 L510.38,433.98 L510.98,434.81 L511.59,435.62 L512.19,436.39 L512.79,437.12 L513.39,437.83 L514.00,438.49 L514.60,439.11 L515.20,439.69 L515.80,440.23 L516.40,440.72 L517.01,441.15 L517.61,441.54 L518.21,441.86 L518.81,442.12 L519.41,442.32 L520.02,442.45 L520.62,442.50 L521.22,442.48 L521.82,442.37 L522.43,442.18 L523.03,441.91 L523.63,441.54 L524.23,441.08 L524.83,440.53 L525.44,439.87 L526.04,439.11 L526.64,438.23 L527.24,437.25 L527.84,436.14 L528.45,434.91 L529.05,433.55 L529.65,432.05 L530.25,430.41 L530.86,428.60 L531.46,426.63 L532.06,424.48 L532.66,422.16 L533.26,419.65 L533.87,416.97 L534.47,414.13 L535.07,411.12 L535.67,407.97 L536.27,404.69 L536.88,401.31 L537.48,397.85 L538.08,394.33 L538.68,390.76 L539.29,387.15 L539.89,383.53 L540.49,379.90 L541.09,376.26 L541.69,372.61 L542.30,368.97 L542.90,365.33 L543.50,361.68" stroke="#5a5a5a" stroke-width="1.1" fill="none"/>
<circle cx="303.25" cy="394.73" r="1.95" stroke="#3344ff" stroke-width="1.0" fill="none"/>
<circle cx="351.30" cy="330.70" r="1.95" stroke="#3344ff" stroke-width="1.0" fill="none"/>
<circle cx="399.35" cy="401.42" r="1.95" stroke="#3344ff" stroke-width="1.0" fill="none"/>
<circle cx="423.38" cy="383.61" r="1.95" stroke="#3344ff" stroke-width="1.0" fill="none"/>
<circle cx="543.50" cy="361.68" r="1.95" stroke="#3344ff" stroke-width="1.0" fill="none"/>
<path d="M502.86,424.30H507.26L505.06,428.10Z" stroke="#ff3030" stroke-width="0.9" fill="none" stroke-linejoin="miter"/>
<path d="M522.56,439.30H526.96L524.76,443.10Z" stroke="#ff3030" stroke-width="0.9" fill="none" stroke-linejoin="miter"/>
<path d="M527.85,429.69H532.25L530.05,433.49Z" stroke="#ff3030" stroke-width="0.9" fill="none" stroke-linejoin="miter"/>
<path d="M477.19,378.22L478.79,377.42L479.59,375.82L480.39,377.42L481.99,378.22L480.39,379.02L479.59,380.62L478.79,379.02Z" fill="#e000e0" stroke="#e000e0" stroke-width="0.7"/>
<path d="M504.10,428.03L505.70,427.23L506.50,425.63L507.30,427.23L508.90,428.03L507.30,428.83L506.50,430.43L505.70,428.83Z" fill="#e000e0" stroke="#e000e0" stroke-width="0.7"/>
<path d="M529.09,426.53L530.69,425.73L531.49,424.13L532.29,425.73L533.89,426.53L532.29,427.33L531.49,428.93L530.69,427.33Z" fill="#e000e0" stroke="#e000e0" stroke-width="0.7"/>
<circle cx="451.72" cy="360.86" r="1.5" fill="#22dd22"/>
<circle cx="483.20" cy="384.18" r="1.5" fill="#22dd22"/>
<circle cx="513.71" cy="438.18" r="1.5" fill="#22dd22"/>
<path d="M303.25,458.50v-2.4M351.30,458.50v-2.4M399.35,458.50v-2.4M447.40,458.50v-2.4M495.45,458.50v-2.4M543.50,458.50v-2.4M303.25,458.50h2.4M303.25,426.65h2.4M303.25,394.80h2.4M303.25,362.95h2.4M303.25,331.10h2.4M303.25,299.25h2.4M303.25,267.40h2.4" stroke="#8a8a8a" stroke-width="0.8" fill="none"/>
<path d="M303.25,267.40V458.50" stroke="#8e8e8e" stroke-width="1.2" fill="none"/>
<path d="M302.65,458.50H543.50" stroke="#aaaaaa" stroke-width="1.3" fill="none"/>
<text x="300.05" y="461.70" text-anchor="end" class="tk">-5</text>
<text x="300.05" y="429.85" text-anchor="end" class="tk">0</text>
<text x="300.05" y="398.00" text-anchor="end" class="tk">5</text>
<text x="300.05" y="366.15" text-anchor="end" class="tk">10</text>
<text x="300.05" y="334.30" text-anchor="end" class="tk">15</text>
<text x="300.05" y="302.45" text-anchor="end" class="tk">20</text>
<text x="300.05" y="270.60" text-anchor="end" class="tk">25</text>
<text x="303.25" y="469.90" text-anchor="middle" class="tk">0</text>
<text x="351.30" y="469.90" text-anchor="middle" class="tk">1</text>
<text x="399.35" y="469.90" text-anchor="middle" class="tk">2</text>
<text x="447.40" y="469.90" text-anchor="middle" class="tk">3</text>
<text x="495.45" y="469.90" text-anchor="middle" class="tk">4</text>
<text x="543.50" y="469.90" text-anchor="middle" class="tk">5</text>
<rect x="426.6" y="274.5" width="110.9" height="73.7" fill="#fff" stroke="#777" stroke-width="0.8"/>
<circle cx="435.5" cy="280.20" r="1.9" stroke="#3344ff" stroke-width="0.9" fill="none"/>
<text x="444.8" y="283.00" class="lg">Initial points</text>
<path d="M433.35,288.10H437.65L435.50,291.90Z" stroke="#ff3030" stroke-width="0.9" fill="none"/>
<text x="444.8" y="292.70" class="lg">Training points by U only</text>
<path d="M433.10,299.90L434.70,299.10L435.50,297.50L436.30,299.10L437.90,299.90L436.30,300.70L435.50,302.30L434.70,300.70Z" fill="#e000e0" stroke="#e000e0" stroke-width="0.7"/>
<text x="444.8" y="302.70" class="lg">Training points by U-semi</text>
<circle cx="435.5" cy="309.90" r="1.6" fill="#22dd22"/>
<text x="444.8" y="312.70" class="lg">Training points by U<tspan font-size="6.6" dy="4.0" dx="0.5">A</tspan><tspan dy="-4.0">-semi</tspan></text>
<path d="M429,322.40H443" stroke="#ff9494" stroke-width="1.6"/>
<text x="444.8" y="325.20" class="lg">Threshold value</text>
<path d="M429,332.80H443" stroke="#6464ff" stroke-width="1.2"/>
<text x="444.8" y="335.60" class="lg">SPAK model</text>
<path d="M429,342.50H443" stroke="#5c5c5c" stroke-width="1.0"/>
<text x="444.8" y="345.30" class="lg">Performance Function</text>
<text x="423.38" y="481.5" text-anchor="middle" class="al">x</text>
<text transform="translate(287.1,363.15) rotate(-90)" text-anchor="middle" class="al gl">G(x)</text>
<text x="411.4" y="500.5" text-anchor="middle" class="cp"><tspan font-weight="bold">(d)</tspan> SPAK</text>
</g>
</svg></body></html>
